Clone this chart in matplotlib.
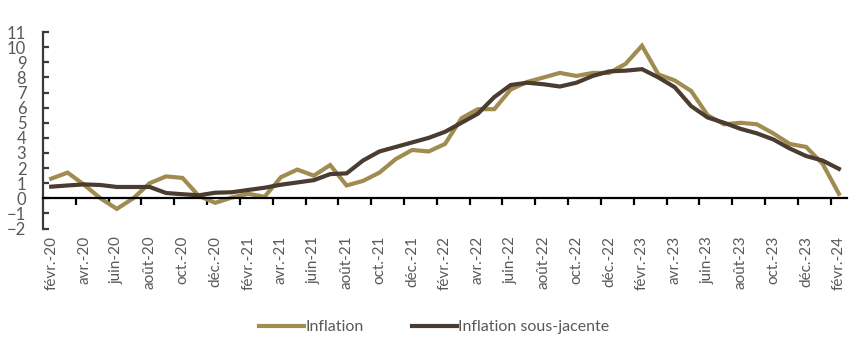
import matplotlib.pyplot as plt

plt.rcParams['font.family'] = ['Lato', 'DejaVu Sans']

months = ["janv.", "févr.", "mars", "avr.", "mai", "juin", "juil.", "août",
          "sept.", "oct.", "nov.", "déc."]
# monthly labels from févr.-20 to févr.-24
labels = []
for yr in range(20, 25):
    for m in months:
        labels.append(m + "-" + str(yr))
labels = labels[1:50]

inflation = [1.3, 1.7, 0.9, 0.0, -0.7, 0.0, 1.0, 1.45, 1.35, 0.15,
             -0.3, 0.05, 0.3, 0.1, 1.4, 1.9, 1.5, 2.2, 0.85, 1.15,
             1.7, 2.6, 3.2, 3.1, 3.6, 5.3, 5.9, 5.9, 7.2, 7.7,
             8.0, 8.3, 8.1, 8.3, 8.3, 8.9, 10.1, 8.2, 7.8, 7.1,
             5.5, 4.9, 5.0, 4.9, 4.3, 3.6, 3.4, 2.3, 0.3]
core = [0.77, 0.85, 0.92, 0.88, 0.75, 0.75, 0.75, 0.35, 0.27, 0.2,
        0.37, 0.4, 0.55, 0.7, 0.9, 1.05, 1.2, 1.6, 1.65, 2.5,
        3.1, 3.4, 3.7, 4.0, 4.4, 5.0, 5.6, 6.7, 7.5, 7.65,
        7.55, 7.4, 7.65, 8.1, 8.4, 8.45, 8.55, 8.0, 7.35, 6.1,
        5.35, 5.0, 4.6, 4.3, 3.9, 3.3, 2.8, 2.5, 1.95]

x = list(range(len(labels)))

fig = plt.figure(figsize=(8.6, 3.61), dpi=100)
ax = fig.add_axes([0.05, 0.367, 0.935, 0.544])

ax.plot(x, inflation, color="#A08C50", lw=3, label="Inflation", solid_joinstyle="miter")
ax.plot(x, core, color="#4A3C30", lw=3, label="Inflation sous-jacente", solid_joinstyle="miter")

ax.set_xlim(-0.5, len(x) - 0.5)
ax.set_ylim(-2, 11)
ax.set_yticks(range(-2, 12))

ax.spines['top'].set_visible(False)
ax.spines['right'].set_visible(False)
ax.spines['bottom'].set_position(('data', 0))
ax.spines['bottom'].set_color("black")
ax.spines['bottom'].set_linewidth(1.6)
ax.spines['left'].set_color("#3a3a3a")
ax.spines['left'].set_linewidth(1.6)

ax.set_xticks(x[::2])
ax.set_xticklabels(labels[::2], rotation=90)
ax.set_xticks([i + 1.5 for i in x[::2][:-1]], minor=True)
ax.tick_params(axis='x', which='major', length=0, pad=27, labelsize=11, labelcolor="#595959")
ax.tick_params(axis='x', which='minor', length=5, width=1.6, direction='out', color="black")
ax.tick_params(axis='y', length=4, width=1.6, direction='in', color="#3a3a3a",
               labelsize=12, labelcolor="#595959", pad=12)

fig.legend(loc='center', bbox_to_anchor=(0.505, 0.094), ncol=2, frameon=False,
           fontsize=11.5, handlelength=2.8, handletextpad=0.1, columnspacing=3.0,
           labelcolor="#595959")

fig.savefig("out.png", dpi=100)
